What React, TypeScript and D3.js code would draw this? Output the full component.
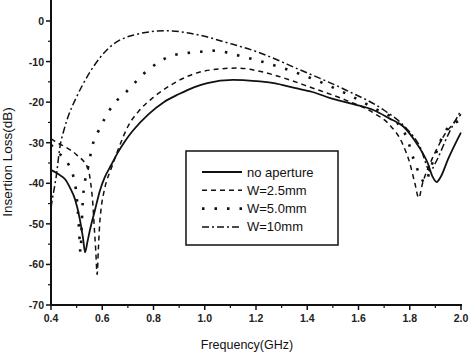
import React from "react";
import * as d3 from "d3";

// insertion loss vs frequency
const noAperture: [number, number][] = [
  [0.4, -36.7], [0.43, -37.8], [0.455, -39], [0.475, -41.2], [0.494, -44],
  [0.513, -49], [0.525, -53.5], [0.533, -57], [0.542, -54.5], [0.552, -51.5],
  [0.572, -46.5], [0.59, -42], [0.61, -38.5], [0.635, -35.5], [0.66, -32.5],
  [0.69, -29.5], [0.72, -27], [0.78, -23], [0.84, -20], [0.9, -18],
  [0.96, -16.3], [1.01, -15.3], [1.11, -14.5], [1.2, -14.8], [1.27, -15.3],
  [1.35, -16.5], [1.42, -17.5], [1.49, -19], [1.58, -20.5], [1.66, -22],
  [1.72, -24], [1.775, -26], [1.82, -29.5], [1.85, -32.5], [1.87, -35],
  [1.89, -38.5], [1.905, -39.7], [1.92, -38.5], [1.95, -34], [1.98, -30],
  [2.0, -27.5],
];

const w25: [number, number][] = [
  [0.4, -29], [0.43, -30.2], [0.455, -31], [0.5, -33], [0.545, -36.5],
  [0.555, -40], [0.562, -44], [0.57, -52], [0.575, -57], [0.58, -62.5],
  [0.585, -56], [0.59, -50], [0.597, -45.5], [0.607, -42], [0.64, -35.5],
  [0.677, -29.3], [0.7, -26], [0.74, -22.4], [0.8, -18.8], [0.85, -16.5],
  [0.92, -14], [1.0, -12.3], [1.13, -11.6], [1.2, -12.2], [1.27, -13.3],
  [1.42, -16.5], [1.55, -19.5], [1.66, -22.7], [1.72, -25.5], [1.77, -30],
  [1.8, -35], [1.82, -40], [1.835, -43.6], [1.85, -40], [1.88, -35],
  [1.91, -31], [1.93, -28.6], [1.96, -26], [2.0, -23],
];

const w50: [number, number][] = [
  [0.4, -30.5], [0.43, -32.5], [0.465, -35], [0.486, -38], [0.497, -41.5],
  [0.505, -47], [0.51, -52], [0.515, -57], [0.52, -50], [0.525, -43.4],
  [0.545, -36], [0.565, -30], [0.583, -27.4], [0.61, -24], [0.642, -20.7],
  [0.69, -17.7], [0.78, -12], [0.88, -8.4], [0.98, -7.6], [1.03, -7.3],
  [1.15, -8.8], [1.29, -11.3], [1.45, -15], [1.66, -21.5], [1.75, -25],
  [1.79, -29], [1.815, -34], [1.84, -38], [1.86, -40], [1.88, -36.5],
  [1.9, -33], [1.94, -27], [2.0, -24.5],
];

const w10: [number, number][] = [
  [0.4, -46], [0.405, -44], [0.412, -41.5], [0.42, -38.5], [0.435, -31],
  [0.45, -27], [0.47, -23], [0.494, -19.5], [0.55, -12.8], [0.63, -6.4],
  [0.72, -3.5], [0.85, -2.4], [0.98, -3.5], [1.09, -5.4], [1.2, -7.5],
  [1.37, -12], [1.55, -17], [1.7, -22], [1.78, -26], [1.84, -31],
  [1.88, -37], [1.9, -35], [1.95, -28], [2.0, -22],
];

const seriesNames = ["no aperture", "W=2.5mm", "W=5.0mm", "W=10mm"];
const seriesData = [noAperture, w25, w50, w10];
const xTicks = [0.4, 0.6, 0.8, 1.0, 1.2, 1.4, 1.6, 1.8, 2.0];
const yTicks = [0, -10, -20, -30, -40, -50, -60, -70];

const dashes = [null, "5,4", "2.5,10", "7,3,2,3"];
const widths = [1.8, 1.5, 2.6, 1.5];

export default function App() {
  const x = d3.scaleLinear().domain([0.4, 2.0]).range([51, 461]);
  const y = d3.scaleLinear().domain([-70, 0]).range([305, 21]);
  const line = d3
    .line<[number, number]>()
    .x((d) => x(d[0]))
    .y((d) => y(d[1]))
    .curve(d3.curveMonotoneX);

  const xMinor = d3.range(0.5, 2.0, 0.2);
  const yMinor = d3.range(-65, 5, 10);
  const tickFont = "'Liberation Sans', Arial, sans-serif";

  return (
    <svg
      width={474}
      height={353}
      style={{ position: "absolute", left: 0, top: 0, background: "#fff" }}
    >
      {/* curves */}
      {seriesData.map((s, i) => (
        <path
          key={i}
          d={line(s) || ""}
          fill="none"
          stroke="#111"
          strokeWidth={widths[i]}
          strokeDasharray={dashes[i] || undefined}
        />
      ))}

      {/* axes */}
      <line x1={51} x2={51} y1={0} y2={305} stroke="#111" strokeWidth={2} />
      <line x1={50} x2={462} y1={305} y2={305} stroke="#111" strokeWidth={2} />
      {xTicks.map((t) => (
        <g key={t}>
          <line x1={x(t)} x2={x(t)} y1={305} y2={310} stroke="#111" strokeWidth={1.5} />
          <text
            x={x(t)}
            y={322}
            textAnchor="middle"
            fontFamily={tickFont}
            fontWeight="bold"
            fontSize={10.5}
            fill="#222"
          >
            {t.toFixed(1)}
          </text>
        </g>
      ))}
      {xMinor.map((t) => (
        <line key={t} x1={x(t)} x2={x(t)} y1={305} y2={308} stroke="#111" strokeWidth={1.2} />
      ))}
      {yTicks.map((t) => (
        <g key={t}>
          <line x1={46} x2={51} y1={y(t)} y2={y(t)} stroke="#111" strokeWidth={1.5} />
          <text
            x={44}
            y={y(t) + 4}
            textAnchor="end"
            fontFamily={tickFont}
            fontWeight="bold"
            fontSize={10.5}
            fill="#222"
          >
            {t}
          </text>
        </g>
      ))}
      {yMinor.map((t) => (
        <line key={t} x1={48} x2={51} y1={y(t)} y2={y(t)} stroke="#111" strokeWidth={1.2} />
      ))}

      {/* axis titles */}
      <text
        x={247}
        y={349}
        textAnchor="middle"
        fontFamily={tickFont}
        fontSize={12.5}
        fill="#111"
      >
        Frequency(GHz)
      </text>
      <text
        transform="translate(12,162) rotate(-90)"
        textAnchor="middle"
        fontFamily={tickFont}
        fontSize={13.5}
        fill="#111"
      >
        Insertion Loss(dB)
      </text>

      {/* legend */}
      <rect x={186} y={151} width={152} height={94} fill="#fff" stroke="#111" strokeWidth={1.5} />
      {seriesNames.map((name, i) => {
        const ly = 172 + i * 18.3;
        return (
          <g key={name}>
            <line
              x1={202}
              x2={242}
              y1={ly}
              y2={ly}
              stroke="#111"
              strokeWidth={widths[i]}
              strokeDasharray={dashes[i] || undefined}
            />
            <text
              x={247}
              y={ly + 4.5}
              fontFamily={tickFont}
              fontSize={13}
              fill="#111"
            >
              {name}
            </text>
          </g>
        );
      })}
    </svg>
  );
}
